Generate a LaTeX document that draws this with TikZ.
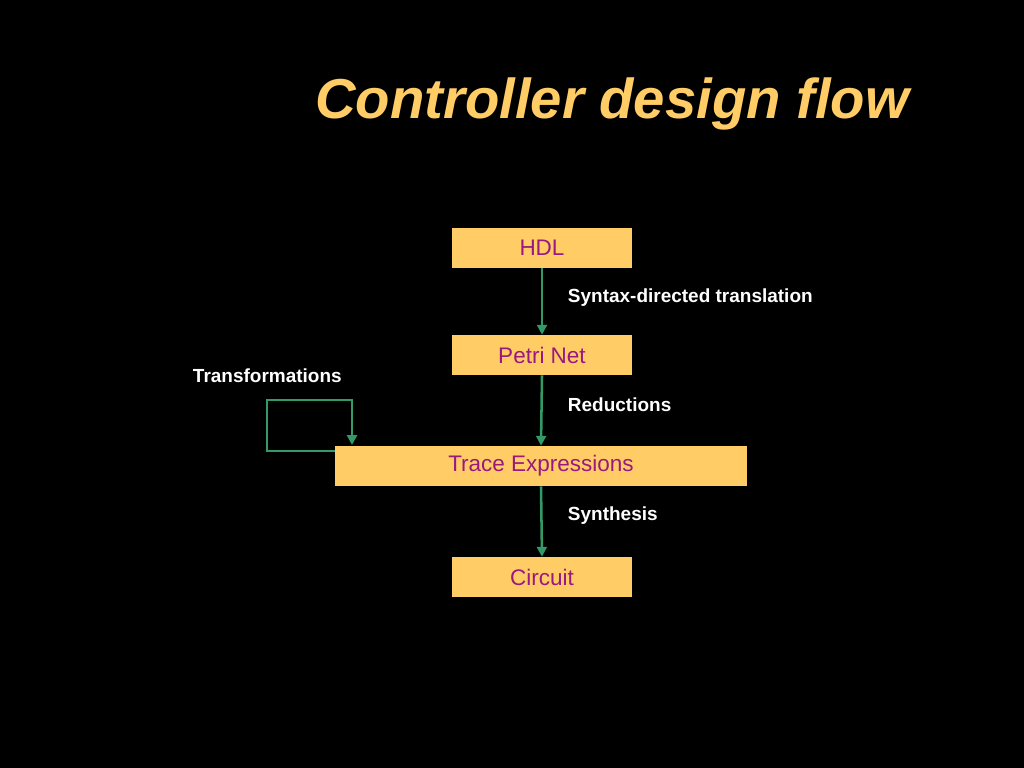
\documentclass[tikz,border=0pt]{standalone}
\usepackage{fontspec}
\setmainfont{Liberation Sans}
\usetikzlibrary{arrows.meta,positioning}
\definecolor{boxfill}{HTML}{FFCC66}
\definecolor{boxtext}{HTML}{99197F}
\definecolor{flowgreen}{HTML}{339966}
\tikzset{
  stage/.style={fill=boxfill,text=boxtext,minimum height=1.0cm,font=\fontsize{16}{18}\selectfont,inner sep=0pt},
  flow/.style={-{Triangle[length=7pt,width=7pt]},line width=1.8pt,draw=flowgreen},
  steplabel/.style={text=white,font=\bfseries\fontsize{13.5}{15}\selectfont,anchor=west}
}
\begin{document}
\begin{tikzpicture}[x=0.025cm,y=-0.025cm]
    % background
    \fill[black] (0,0) rectangle (1024,768);
    \node[text=boxfill,font=\bfseries\itshape\fontsize{40}{44}\selectfont] (title) at (612,104) {Controller design flow};

    % stages
    \node[stage,minimum width=4.5cm] (hdl) at (542,248) {HDL};
    \node[stage,minimum width=4.5cm] (petri) at (542,355) {Petri Net};
    \node[stage,minimum width=10.3cm] (trace) at (541,466) {Trace Expressions};
    \node[stage,minimum width=4.5cm] (circuit) at (542,577) {Circuit};

    % arrows between stages
    \draw[flow] (hdl.south) -- (petri.north);
    \draw[flow] (petri.south) -- (trace.north);
    \draw[flow] (trace.south) -- (circuit.north);

    % self loop
    \coordinate (loopstart) at (335,451);
    \coordinate (loopend) at (352,445);
    \draw[flow] (loopstart) -- (267,451) -- (267,400) -- (352,400) -- (loopend);

    % labels
    \node[steplabel] (lsyn) at (563,298) {Syntax-directed translation};
    \node[steplabel] (lred) at (563,405) {Reductions};
    \node[steplabel] (lsth) at (563,516) {Synthesis};
    \node[steplabel] (ltrf) at (188,376) {Transformations};
\end{tikzpicture}
\end{document}
